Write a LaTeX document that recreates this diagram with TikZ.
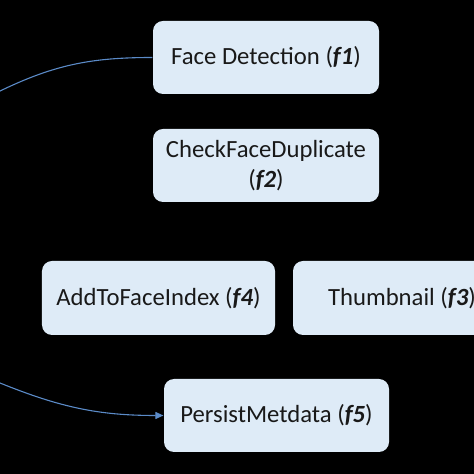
\documentclass[tikz,border=0pt]{standalone}
\usepackage{fontspec}
\setmainfont{Carlito}
\usetikzlibrary{arrows.meta}
\definecolor{boxfill}{RGB}{222,235,247}
\definecolor{flowline}{RGB}{91,139,200}
\begin{document}
\begin{tikzpicture}[x=1bp, y=1bp, line width=1.2bp,
  stagebox/.style={fill=boxfill, rounded corners=10bp, minimum width=226bp, minimum height=73bp,
    inner sep=2bp, align=center, text=black!90, font=\fontsize{24.8}{30}\selectfont},
  flow/.style={draw=flowline, line width=1.1bp}]
  \fill[black] (0,0) rectangle (474,474);
  \clip (0,0) rectangle (474,474);
  \node[stagebox] (detect) at (266,416.5) {Face Detection (\textbf{\textit{f1}})};
  \node[stagebox] (dupl) at (266,308.5) {CheckFaceDuplicate\\(\textbf{\textit{f2}})};
  \node[stagebox, minimum width=233bp, minimum height=74bp] (index) at (158.5,176) {AddToFaceIndex (\textbf{\textit{f4}})};
  \node[stagebox, minimum width=218bp, minimum height=74bp] (thumb) at (402,176) {Thumbnail (\textbf{\textit{f3}})};
  \node[stagebox, minimum width=225bp] (persist) at (276.5,58.5) {PersistMetdata (\textbf{\textit{f5}})};
  \coordinate (inleft) at (0,91);
  \coordinate (outleft) at (-2,382);
  \draw[flow] (detect.west) to[out=180, in=26] (outleft);
  \draw[flow, -{Triangle[length=8bp, width=7bp]}] (inleft) to[out=-22, in=180] (persist.west);
\end{tikzpicture}
\end{document}
